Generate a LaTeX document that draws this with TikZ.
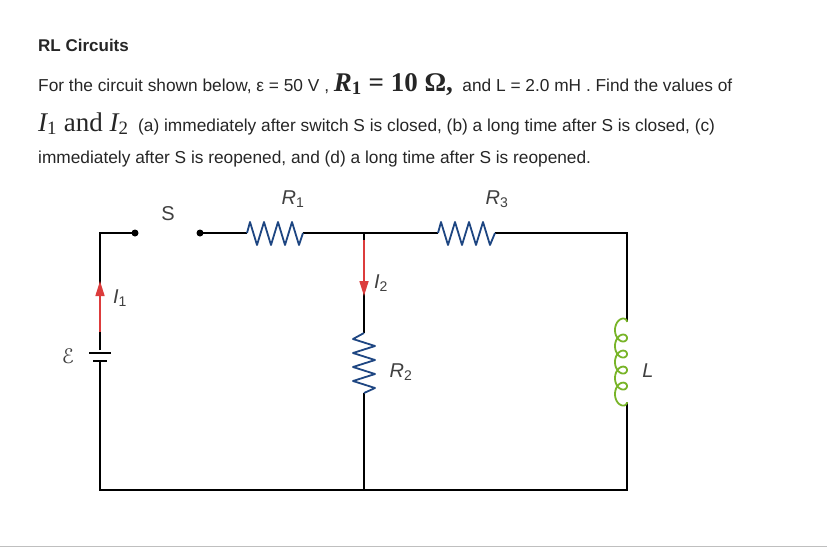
\documentclass[tikz,border=0pt]{standalone}
\usepackage{fontspec}
\usetikzlibrary{arrows.meta}
\setmainfont{Liberation Sans}
\newfontfamily\serif{Liberation Serif}
\newfontfamily\djv{DejaVu Sans}
\begin{document}
\begin{tikzpicture}[x=1pt,y=-1pt,
  wire/.style={line width=1.6pt,black},
  res/.style={line width=1.8pt,color={rgb,255:red,30;green,70;blue,130},line join=round},
  cur/.style={line width=1.6pt,color={rgb,255:red,220;green,60;blue,60},-{Triangle[length=15pt,width=9pt]}},
  lab/.style={font=\fontsize{20}{22}\selectfont\itshape,text=black!75},
  txt/.style={anchor=base west,inner sep=0pt,font=\fontsize{17.3}{19}\selectfont,text=black!85}]
\useasboundingbox (0,0) rectangle (827,550);
\fill[white] (0,0) rectangle (827,550);
\draw[black!25,line width=1pt] (0,546) -- (827,546);
% text
\node[txt,font=\fontsize{17}{19}\selectfont\bfseries] (title) at (38,51) {RL Circuits};
\node[txt] (l1) at (38,91) {For the circuit shown below, ε = 50 V ,\ {\serif\bfseries\fontsize{27}{28}\selectfont\itshape R\textsubscript{\upshape 1}\upshape\ = 10 Ω,}\ \ and L = 2.0 mH . Find the values of};
\node[txt] (l2) at (38,131) {{\serif\fontsize{27}{28}\selectfont\itshape I\textsubscript{\upshape 1}\upshape\ and \itshape I\textsubscript{\upshape 2}}\ \ (a) immediately after switch S is closed, (b) a long time after S is closed, (c)};
\node[txt] (l3) at (38,163) {immediately after S is reopened, and (d) a long time after S is reopened.};
% coordinates
\coordinate (tl) at (100,233); \coordinate (bl) at (100,490);
\coordinate (tm) at (364,233); \coordinate (bm) at (364,490);
\coordinate (tr) at (627,233); \coordinate (br) at (627,490);
\coordinate (s1) at (135,233); \coordinate (s2) at (200,233);
% wires
\draw[wire] (100,350) -- (tl) -- (s1);
\draw[wire] (s2) -- (247,233);
\draw[wire] (303,233) -- (438,233);
\draw[wire] (495,233) -- (tr) -- (627,322);
\draw[wire] (627,402) -- (br) -- (bl) -- (100,365);
\draw[wire] (tm) -- (364,333); \draw[wire] (364,393) -- (bm);
\fill (s1) circle (3.5); \fill (s2) circle (3.5);
% battery
\draw[wire] (89,353) -- (111,353);
\draw[wire] (93,361) -- (107,361);
\draw[wire] (100,361) -- (100,365);
% resistors
\draw[res] (247,233) -- (250,222) -- (257,245) -- (264,222) -- (271,245) -- (278,222) -- (285,245) -- (292,222) -- (299,245) -- (303,233);
\draw[res] (438,233) -- (441,222) -- (448,245) -- (455,222) -- (462,245) -- (469,222) -- (476,245) -- (483,222) -- (490,245) -- (495,233);
\draw[res] (364,333) -- (353,339) -- (375,346) -- (353,353) -- (375,360) -- (353,367) -- (375,374) -- (353,381) -- (375,388) -- (364,393);
% inductor
\draw[line width=1.8pt,color={rgb,255:red,120;green,180;blue,40}] plot[domain=0:31.416,samples=300,smooth] ({621+6*cos(\x r)},{322+2.55*\x-7*sin(\x r)});
% currents
\draw[cur] (100,332) -- (100,281);
\draw[cur] (364,240) -- (364,296);
% labels
\node[lab] (lS) at (168,214) {\upshape S};
\node[lab] (lR1) at (293,199) {R\textsubscript{\upshape 1}};
\node[lab] (lR3) at (497,199) {R\textsubscript{\upshape 3}};
\node[lab] (lR2) at (401,372) {R\textsubscript{\upshape 2}};
\node[lab] (lL) at (648,371) {L};
\node[lab] (lI1) at (120,298) {I\textsubscript{\upshape 1}};
\node[lab] (lI2) at (381,283) {I\textsubscript{\upshape 2}};
\node[lab,font=\fontsize{20}{22}\selectfont\djv] (lE) at (68,356) {ℰ};
\end{tikzpicture}
\end{document}
